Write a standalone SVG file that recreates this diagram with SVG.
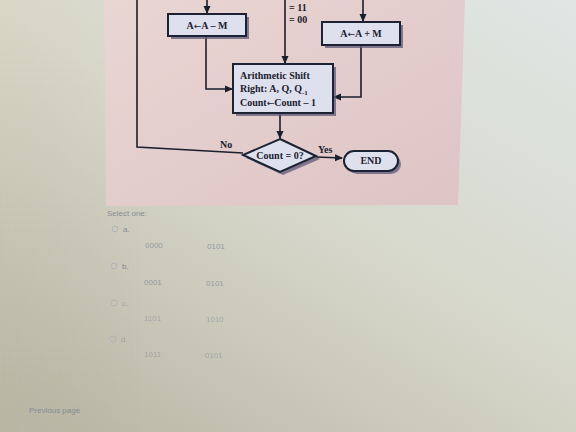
<svg xmlns="http://www.w3.org/2000/svg" width="576" height="432" viewBox="0 0 576 432">
<defs>
<linearGradient id="bg" x1="1" y1="0" x2="0.2" y2="1">
<stop offset="0" stop-color="#dfe6e4"/>
<stop offset="0.5" stop-color="#d8d9cd"/>
<stop offset="1" stop-color="#bdbaa9"/>
</linearGradient>
<linearGradient id="lf" x1="0" y1="0" x2="0" y2="1">
<stop offset="0" stop-color="#d9d6c4" stop-opacity="0.8"/>
<stop offset="1" stop-color="#b5b2a1" stop-opacity="0.6"/>
</linearGradient>
<linearGradient id="lh" x1="0" y1="0" x2="1" y2="0">
<stop offset="0" stop-color="#fff" stop-opacity="1"/>
<stop offset="1" stop-color="#fff" stop-opacity="0"/>
</linearGradient>
<mask id="lm"><rect width="140" height="432" fill="url(#lh)"/></mask>
<linearGradient id="pk" x1="0" y1="0" x2="1" y2="1">
<stop offset="0" stop-color="#e9d6d3"/>
<stop offset="1" stop-color="#dec4c5"/>
</linearGradient>
<marker id="ah" markerWidth="8" markerHeight="8" refX="7" refY="4" orient="auto" markerUnits="userSpaceOnUse">
<path d="M0,0.5 L8,4 L0,7.5 Z" fill="#1a1f2c"/>
</marker>
</defs>
<style>
.box{fill:#dfe0ee;stroke:#1c2233;stroke-width:2}
.sh{fill:#5d5a78;opacity:0.75}
.ln{fill:none;stroke:#1a1f2c;stroke-width:1.6}
.t{font-family:"Liberation Serif",serif;font-weight:bold;fill:#1a2030;font-size:10px}
.ar{font-family:"DejaVu Sans",sans-serif;font-weight:normal}
.ui{font-family:"Liberation Sans",Arial,sans-serif;fill:#868b92;font-size:8px}
.uv{font-family:"Liberation Sans",Arial,sans-serif;fill:#959aa4;font-size:8px}
.rd{fill:none;stroke:#b0b4b8;stroke-width:1}
</style>
<rect width="576" height="432" fill="url(#bg)"/>
<rect x="0" y="0" width="140" height="432" fill="url(#lf)" mask="url(#lm)"/>
<polygon points="104,0 465,0 458,205 106,206" fill="url(#pk)"/>

<g id="connectors">
<line class="ln" x1="207" y1="0" x2="207" y2="13" marker-end="url(#ah)"/>
<line class="ln" x1="285" y1="0" x2="285" y2="63" marker-end="url(#ah)"/>
<line class="ln" x1="363" y1="0" x2="363" y2="21" marker-end="url(#ah)"/>
<polyline class="ln" points="206,37 206,89 232,89" marker-end="url(#ah)"/>
<polyline class="ln" points="361,46 361,97 334,97" marker-end="url(#ah)"/>
<line class="ln" x1="280" y1="114" x2="280" y2="138" marker-end="url(#ah)"/>
<polyline class="ln" points="243,153 137,147 137,0"/>
<line class="ln" x1="316" y1="157" x2="342" y2="158" marker-end="url(#ah)"/>
<text class="t" x="289" y="11" font-size="9">= 11</text>
<text class="t" x="289" y="23" font-size="9">= 00</text>
<text class="t" x="220" y="148" font-size="8" font-weight="normal">No</text>
<text class="t" x="318" y="153" font-size="8" font-weight="normal">Yes</text>
</g>

<g id="sub">
<rect class="sh" x="171" y="17" width="78" height="22"/>
<rect class="box" x="168" y="14" width="78" height="22"/>
<text class="t" x="207" y="29" text-anchor="middle">A<tspan class="ar" font-size="9">←</tspan>A – M</text>
</g>

<g id="add">
<rect class="sh" x="325" y="25" width="78" height="23"/>
<rect class="box" x="322" y="22" width="78" height="23"/>
<text class="t" x="361" y="37" text-anchor="middle">A<tspan class="ar" font-size="9">←</tspan>A + M</text>
</g>

<g id="shift">
<rect class="sh" x="236" y="67" width="100" height="49"/>
<rect class="box" x="233" y="64" width="100" height="49"/>
<text class="t" x="240" y="79">Arithmetic Shift</text>
<text class="t" x="240" y="92">Right: A, Q, Q<tspan font-size="7" dy="3">-1</tspan></text>
<text class="t" x="240" y="106">Count<tspan class="ar" font-size="9">←</tspan>Count – 1</text>
</g>

<g id="decision">
<polygon class="sh" points="283,142 320,159 283,175 246,158"/>
<polygon class="box" points="280,139 316,156 280,172 243,155"/>
<text class="t" x="280" y="159" text-anchor="middle" font-size="8" font-weight="normal">Count = 0?</text>
</g>

<g id="end">
<rect class="sh" x="347" y="154" width="54" height="20" rx="10"/>
<rect class="box" x="344" y="151" width="54" height="20" rx="10"/>
<text class="t" x="371" y="164" text-anchor="middle" font-size="9" font-weight="normal">END</text>
</g>

<g id="quiz">
<text class="ui" x="107" y="216">Select one:</text>
<circle class="rd" cx="115" cy="229" r="3"/>
<text class="ui" x="123" y="232">a.</text>
<text class="uv" x="145" y="248">0000</text>
<text class="uv" x="207" y="249">0101</text>
<circle class="rd" cx="114" cy="266" r="3"/>
<text class="ui" x="122" y="269">b.</text>
<text class="uv" x="144" y="285">0001</text>
<text class="uv" x="206" y="286">0101</text>
<circle class="rd" cx="114" cy="303" r="3"/>
<text class="ui" x="122" y="306" opacity="0.6">c.</text>
<text class="uv" x="144" y="321" opacity="0.75">1101</text>
<text class="uv" x="206" y="322" opacity="0.75">1010</text>
<circle class="rd" cx="113" cy="339" r="3"/>
<text class="ui" x="121" y="342" opacity="0.6">d.</text>
<text class="uv" x="144" y="357" opacity="0.75">1011</text>
<text class="uv" x="205" y="358" opacity="0.75">0101</text>
<text class="ui" x="29" y="413" fill="#777a78">Previous page</text>
</g>
</svg>
